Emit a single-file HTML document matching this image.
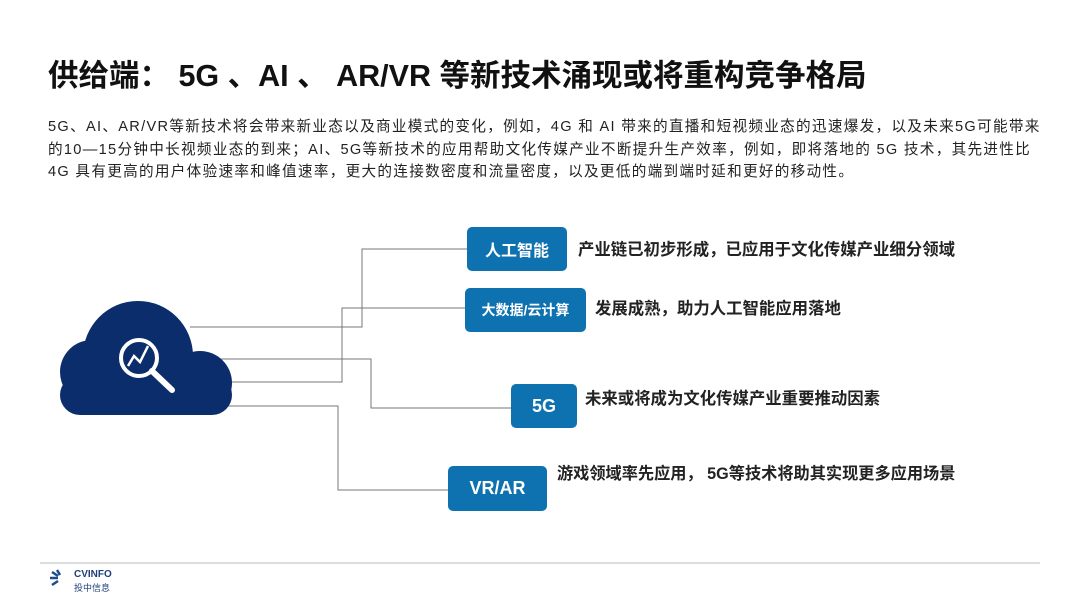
<!DOCTYPE html>
<html><head><meta charset="utf-8"><style>
body{margin:0;width:1080px;height:608px;background:#fff;position:relative;overflow:hidden;font-family:"Liberation Sans","Noto Sans CJK SC",sans-serif;}
.t{position:absolute;white-space:nowrap;}
.box{position:absolute;background:#0f72b0;border-radius:5px;color:#fff;font-weight:bold;display:flex;align-items:center;justify-content:center;}
.lab{position:absolute;font-weight:bold;font-size:16.4px;color:#222;white-space:nowrap;}
</style></head><body>
<div class="t" style="left:48px;top:51px;font-size:30.5px;font-weight:bold;color:#111;">供给端：&nbsp;5G 、AI 、 AR/VR 等新技术涌现或将重构竞争格局</div>
<div class="t" style="left:48px;top:116px;font-size:14.6px;line-height:22.5px;color:#222;letter-spacing:1.3px;">5G、AI、AR/VR等新技术将会带来新业态以及商业模式的变化，例如，4G 和 AI 带来的直播和短视频业态的迅速爆发，以及未来5G可能带来<br>的10—15分钟中长视频业态的到来；AI、5G等新技术的应用帮助文化传媒产业不断提升生产效率，例如，即将落地的 5G 技术，其先进性比<br>4G 具有更高的用户体验速率和峰值速率，更大的连接数密度和流量密度，以及更低的端到端时延和更好的移动性。</div>
<svg width="1080" height="608" style="position:absolute;left:0;top:0">
<g fill="none" stroke="#777" stroke-width="1">
<polyline points="190,327 362,327 362,249 467,249"/>
<polyline points="225,382 342,382 342,308 465,308"/>
<polyline points="220,359 371,359 371,408 511,408"/>
<polyline points="215,406 338,406 338,490 448,490"/>
</g>
<g fill="#0c2d6b">
<circle cx="138" cy="356" r="55"/>
<circle cx="92" cy="372" r="32"/>
<circle cx="200" cy="383" r="32"/>
<rect x="60" y="375" width="172" height="40" rx="20"/>
</g>
<circle cx="139" cy="358" r="18" fill="none" stroke="#fff" stroke-width="4"/>
<line x1="152" y1="371" x2="172" y2="390" stroke="#fff" stroke-width="6" stroke-linecap="round"/>
<polyline points="128,366 134,356 140,362 148,346" fill="none" stroke="#fff" stroke-width="2.5"/>
<line x1="40" y1="563" x2="1040" y2="563" stroke="#bbb"/>
<g stroke="#1d4a8c" stroke-width="2.5"><line x1="50" y1="578" x2="58" y2="578"/><line x1="52" y1="572" x2="58" y2="576"/><line x1="52" y1="585" x2="58" y2="581"/><line x1="57" y1="570" x2="60" y2="575"/></g>
</svg>
<div class="t" style="left:74px;top:569px;font-size:10px;font-weight:bold;color:#1d3f7a;">CVINFO</div>
<div class="t" style="left:74px;top:581px;font-size:9px;color:#1d3f7a;">投中信息</div>
<div class="box" style="left:467px;top:227px;width:100px;height:44px;font-size:16px;">人工智能</div>
<div class="box" style="left:465px;top:288px;width:121px;height:44px;font-size:14px;">大数据/云计算</div>
<div class="box" style="left:511px;top:384px;width:66px;height:44px;font-size:18px;">5G</div>
<div class="box" style="left:448px;top:466px;width:99px;height:45px;font-size:18px;">VR/AR</div>
<div class="lab" style="left:578px;top:236px;">产业链已初步形成，已应用于文化传媒产业细分领域</div>
<div class="lab" style="left:595px;top:295px;">发展成熟，助力人工智能应用落地</div>
<div class="lab" style="left:585px;top:385px;">未来或将成为文化传媒产业重要推动因素</div>
<div class="lab" style="left:557px;top:460px;font-size:16.2px;">游戏领域率先应用，&nbsp;5G等技术将助其实现更多应用场景</div>
</body></html>
